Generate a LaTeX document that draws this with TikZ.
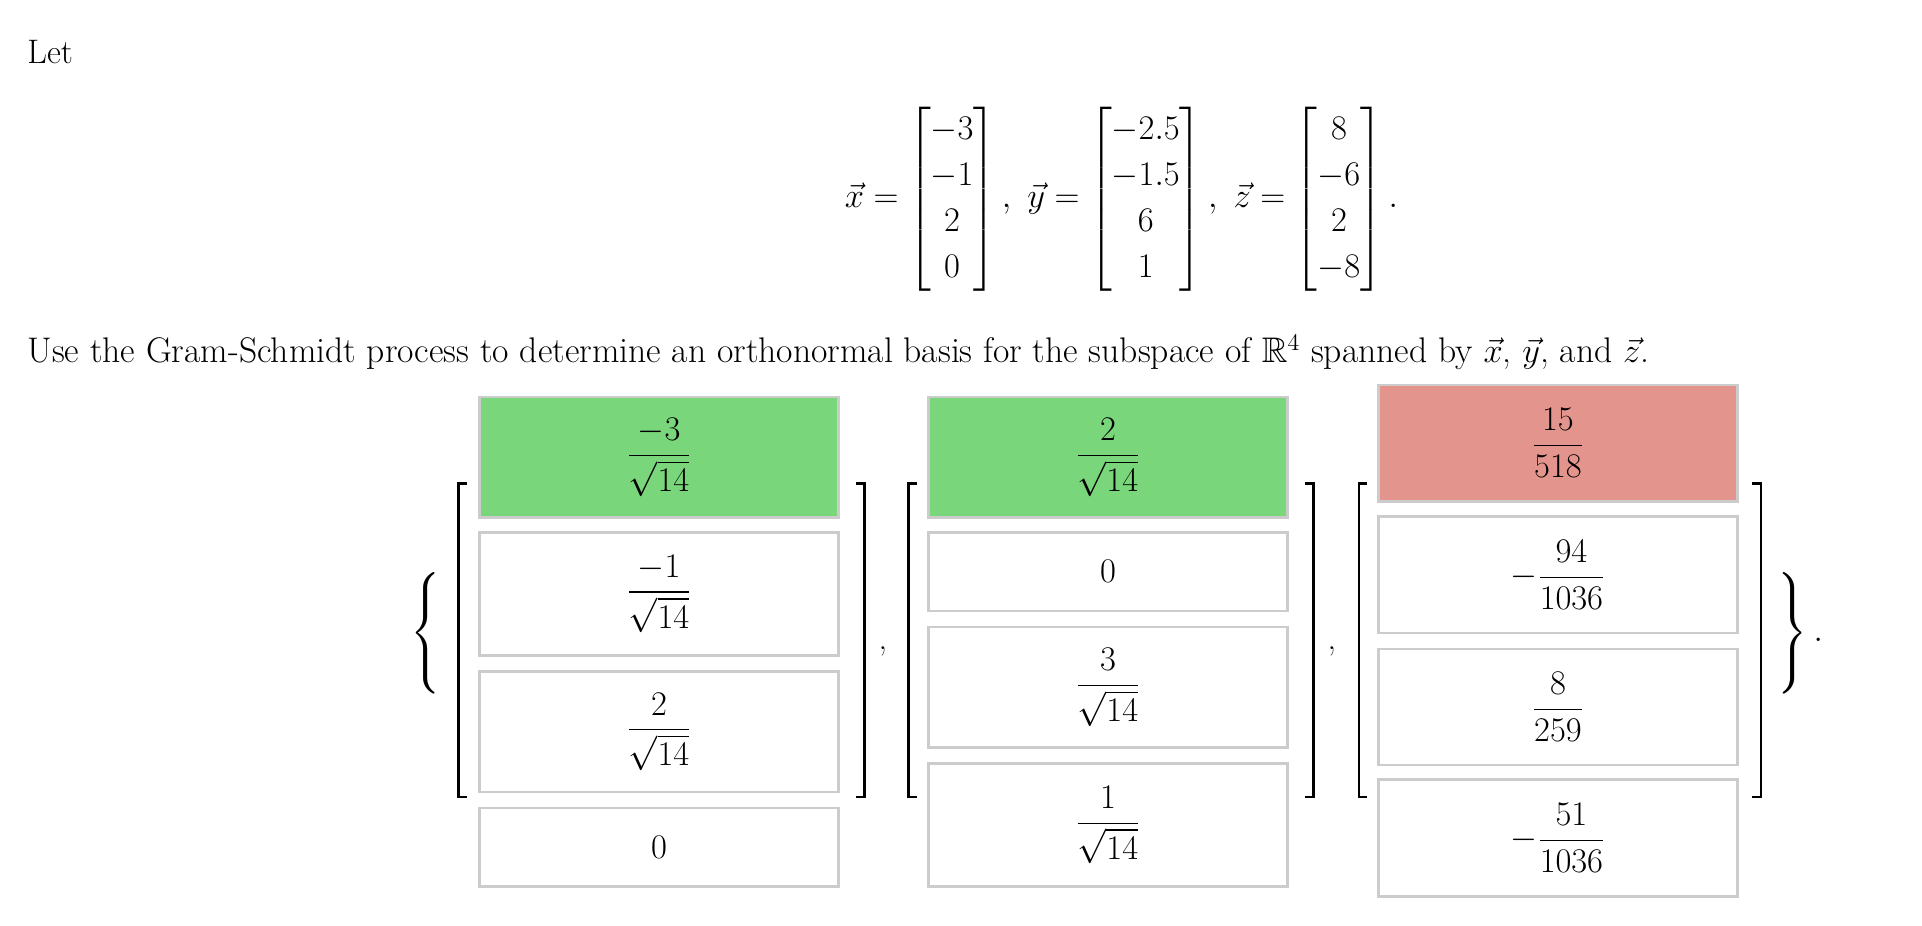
\documentclass[tikz,border=0pt]{standalone}
\usepackage{amsmath,amssymb}
\begin{document}
\begin{tikzpicture}[x=0.615pt,y=-0.615pt,
  cell/.style={draw=black!20,line width=1.2pt,minimum width=292*0.615pt,inner sep=0pt,anchor=north west},
  txt/.style={font=\fontsize{17}{21}\selectfont,inner sep=0pt},
  brk/.style={line width=1.3pt}]
\useasboundingbox (0,0) rectangle (1563,753);
\node[txt,anchor=base west] (let) at (22,52) {Let};
\node[txt] (eq) at (912,162) {$\renewcommand\arraystretch{1.1}\vec x=\begin{bmatrix}-3\\-1\\2\\0\end{bmatrix},\ \vec y=\begin{bmatrix}-2.5\\-1.5\\6\\1\end{bmatrix},\ \vec z=\begin{bmatrix}8\\-6\\2\\-8\end{bmatrix}.$};
\node[txt,anchor=base west,font=\fontsize{17.8}{21}\selectfont] (use) at (22,295) {Use the Gram-Schmidt process to determine an orthonormal basis for the subspace of $\mathbb{R}^4$ spanned by $\vec x$, $\vec y$, and $\vec z$.};
% column 1
\node[cell,fill={rgb,255:red,122;green,214;blue,122},minimum height=98*0.615pt] (a1) at (389,322) {};
\node[cell,minimum height=100*0.615pt] (a2) at (389,432) {};
\node[cell,minimum height=98*0.615pt] (a3) at (389,545) {};
\node[cell,minimum height=64*0.615pt] (a4) at (389,656) {};
\node[txt] at (a1) {$\dfrac{-3}{\sqrt{14}}$};
\node[txt] at (a2) {$\dfrac{-1}{\sqrt{14}}$};
\node[txt] at (a3) {$\dfrac{2}{\sqrt{14}}$};
\node[txt] at (a4) {$0$};
% column 2
\node[cell,fill={rgb,255:red,122;green,214;blue,122},minimum height=98*0.615pt] (b1) at (754,322) {};
\node[cell,minimum height=64*0.615pt] (b2) at (754,432) {};
\node[cell,minimum height=98*0.615pt] (b3) at (754,509) {};
\node[cell,minimum height=100*0.615pt] (b4) at (754,620) {};
\node[txt] at (b1) {$\dfrac{2}{\sqrt{14}}$};
\node[txt] at (b2) {$0$};
\node[txt] at (b3) {$\dfrac{3}{\sqrt{14}}$};
\node[txt] at (b4) {$\dfrac{1}{\sqrt{14}}$};
% column 3
\node[cell,fill={rgb,255:red,227;green,149;blue,141},minimum height=95*0.615pt] (c1) at (1120,312) {};
\node[cell,minimum height=95*0.615pt] (c2) at (1120,419) {};
\node[cell,minimum height=94*0.615pt] (c3) at (1120,527) {};
\node[cell,minimum height=95*0.615pt] (c4) at (1120,633) {};
\node[txt] at (c1) {$\dfrac{15}{518}$};
\node[txt] at (c2) {$-\dfrac{94}{1036}$};
\node[txt] at (c3) {$\dfrac{8}{259}$};
\node[txt] at (c4) {$-\dfrac{51}{1036}$};
% brackets
\foreach \l/\r in {373/703,739/1068,1105/1432}{
  \draw[brk] (\l+7,393) -- (\l,393) -- (\l,648) -- (\l+7,648);
  \draw[brk] (\r-7,393) -- (\r,393) -- (\r,648) -- (\r-7,648);
}
\node[txt] (comma1) at (718,530) {,};
\node[txt] (comma2) at (1083,530) {,};
\node[txt] (lb) at (347,515) {$\left\{\rule{0pt}{33pt}\right.$};
\node[txt] (rb) at (1463,515) {$\left.\rule{0pt}{33pt}\right\}.$};
\end{tikzpicture}
\end{document}
